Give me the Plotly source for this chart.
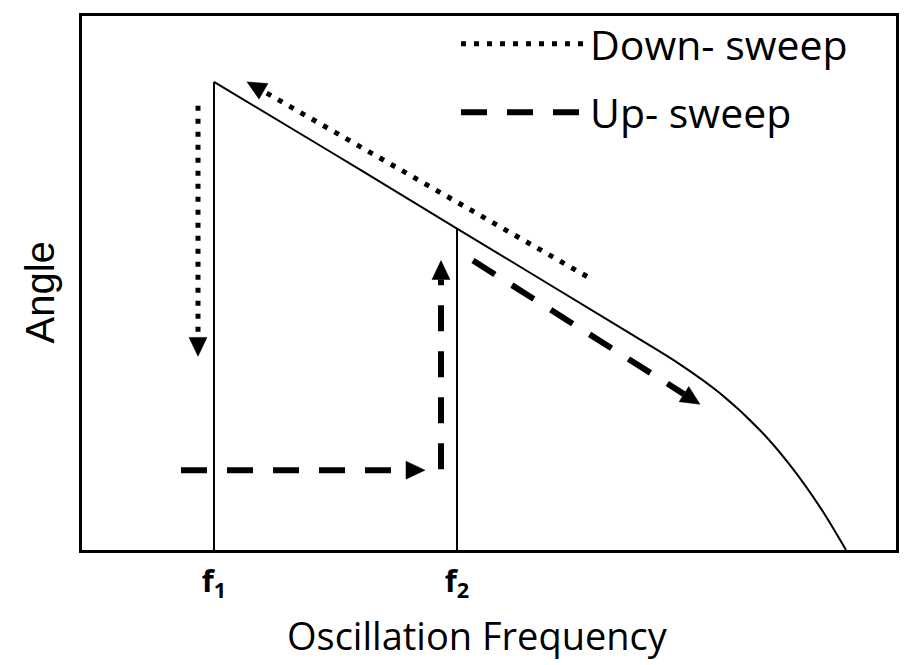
import math
import plotly.graph_objects as go

# ---- data (frequency / angle in arbitrary units) ----
curve_freq = [132, 250, 375, 548, 598, 638, 678, 708, 738, 764]
curve_angle = [469, 398, 322, 217, 186, 157, 120, 85, 43, 0]

f1 = 132
f2 = 375
f1_angle = 469
f2_angle = 322
tick_vals = [f1, f2]
tick_text = ["<b>f<sub>1</sub></b>", "<b>f<sub>2</sub></b>"]
x_title = "Oscillation Frequency"
y_title = "Angle"

# down-sweep arrows: (tail, tip)
down_tails = [(116, 445), (505, 274)]
down_tips = [(116, 194), (165, 469)]
# up-sweep arrows: (tail, tip)
up_tails = [(99, 80), (359, 81), (391, 290)]
up_tips = [(343, 80), (359, 290), (618, 146)]

series_names = ["Down- sweep", "Up- sweep"]

HEAD_L = 19
HEAD_W = 18


def arrow_parts(tails, tips):
    sx, sy, hx, hy = [], [], [], []
    for (tx, ty), (px, py) in zip(tails, tips):
        dx, dy = px - tx, py - ty
        n = math.hypot(dx, dy)
        ux, uy = dx / n, dy / n
        bx, by = px - HEAD_L * ux, py - HEAD_L * uy
        sx += [tx, bx, None]
        sy += [ty, by, None]
        qx, qy = -uy * HEAD_W / 2, ux * HEAD_W / 2
        hx += [px, bx + qx, bx - qx, px, None]
        hy += [py, by + qy, by - qy, py, None]
    return sx, sy, hx, hy


fig = go.Figure()

fig.add_trace(go.Scatter(x=curve_freq, y=curve_angle, mode="lines",
                         line=dict(color="black", width=2, shape="spline", smoothing=1.0),
                         showlegend=False, hoverinfo="skip"))
fig.add_trace(go.Scatter(x=[f1, f1, None, f2, f2], y=[0, f1_angle, None, 0, f2_angle],
                         mode="lines", line=dict(color="black", width=2),
                         showlegend=False, hoverinfo="skip"))

dsx, dsy, dhx, dhy = arrow_parts(down_tails, down_tips)
usx, usy, uhx, uhy = arrow_parts(up_tails, up_tips)

fig.add_trace(go.Scatter(x=dsx, y=dsy, mode="lines", name=series_names[0],
                         legendgroup="d",
                         line=dict(color="black", width=5, dash="5px,8px")))
fig.add_trace(go.Scatter(x=usx, y=usy, mode="lines", name=series_names[1],
                         legendgroup="u",
                         line=dict(color="black", width=6, dash="26px,20px")))
fig.add_trace(go.Scatter(x=dhx + uhx, y=dhy + uhy, mode="lines", fill="toself",
                         fillcolor="black", line=dict(color="black", width=0.5),
                         showlegend=False, hoverinfo="skip"))

fig.add_annotation(text=x_title, xref="paper", yref="paper",
                   x=(477 - 82) / 814, y=0, xanchor="center", yanchor="middle",
                   yshift=-85, showarrow=False,
                   font=dict(family="Open Sans", size=38, color="black"))
fig.add_annotation(text=y_title, xref="paper", yref="paper",
                   x=(40 - 82) / 814, y=(550 - 292) / 535, xanchor="center",
                   yanchor="middle", textangle=-90, showarrow=False,
                   font=dict(family="Liberation Sans", size=40, color="black"))

fig.update_layout(
    width=910, height=665,
    margin=dict(l=82, r=14, t=15, b=115, pad=0),
    paper_bgcolor="white", plot_bgcolor="white",
    showlegend=True,
    legend=dict(x=(456 - 82) / 814, y=1.008, xanchor="left", yanchor="top",
                bgcolor="rgba(0,0,0,0)", itemwidth=124, tracegroupgap=12,
                font=dict(family="Open Sans", size=41, color="black"),
                traceorder="grouped"),
    xaxis=dict(range=[0, 814], showgrid=False, zeroline=False,
               showline=True, mirror=True, linecolor="black", linewidth=2.5,
               tickvals=tick_vals, ticktext=tick_text, ticks="",
               tickfont=dict(family="Open Sans", size=31, color="black"),
               ticklabelstandoff=2),
    yaxis=dict(range=[0, 535], showgrid=False, zeroline=False,
               showline=True, mirror=True, linecolor="black", linewidth=2.5,
               showticklabels=False, ticks=""),
)

fig.write_html("out.html")
